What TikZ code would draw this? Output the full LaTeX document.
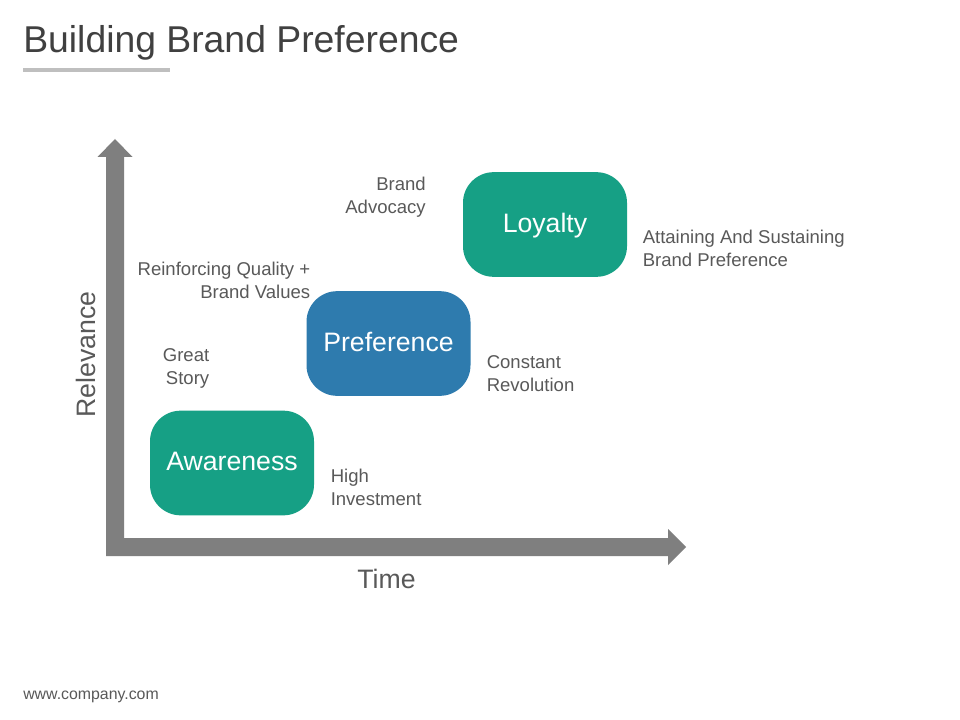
\documentclass[tikz,border=0pt]{standalone}
\usepackage{fontspec}
\setmainfont{Liberation Sans}
\definecolor{axisgray}{HTML}{7F7F7F}
\definecolor{tealbox}{HTML}{16A085}
\definecolor{bluebox}{HTML}{2E7BAE}
\definecolor{textgray}{HTML}{595959}
\definecolor{titlegray}{HTML}{404040}
\definecolor{rulegray}{HTML}{BFBFBF}
\tikzset{
  stagebox/.style={rounded corners=23pt,minimum width=123pt,minimum height=78.5pt,inner sep=0pt,text=white,text height=11.6pt,text depth=0pt,font=\fontsize{20}{24}\selectfont},
  lab/.style={text=textgray,inner sep=0pt,font=\fontsize{13.9}{17.25}\selectfont},
  axlab/.style={text=textgray,inner sep=0pt,font=\fontsize{20}{24}\selectfont},
}
\begin{document}
\begin{tikzpicture}[x=0.75pt,y=-0.75pt]
\useasboundingbox (0,0) rectangle (960,720);
\fill[white] (0,0) rectangle (960,720);
\node[anchor=base west,inner sep=0pt,text=titlegray,font=\fontsize{28}{32}\selectfont] (title) at (23,53) {Building Brand Preference};
\fill[rulegray] (23,68) rectangle (170,72);
\fill[axisgray] (106,556) -- (106,157) -- (97.5,157) -- (115,139) -- (132.5,157) -- (124,157) -- (124,538) -- (668,538) -- (668,529) -- (686,547) -- (668,565) -- (668,556) -- cycle;
\node[stagebox,fill=tealbox] (awareness) at (232,463) {Awareness};
\node[stagebox,fill=bluebox] (preference) at (388.5,343.5) {Preference};
\node[stagebox,fill=tealbox] (loyalty) at (545,224.5) {Loyalty};
\node[axlab,rotate=90,anchor=center] (relevance) at (85.5,354.5) {Relevance};
\node[axlab,anchor=center] (time) at (386.5,578.5) {Time};
\node[lab,anchor=north east,align=right] (advocacy) at (426,177) {Brand\\Advocacy};
\node[lab,anchor=north east,align=right] (reinforcing) at (310.5,262) {Reinforcing Quality +\\Brand Values};
\node[lab,anchor=north east,align=right] (story) at (209.5,348) {Great\\Story};
\node[lab,anchor=north west,align=left] (attaining) at (642.5,230) {Attaining And Sustaining\\Brand Preference};
\node[lab,anchor=north west,align=left] (revolution) at (486.5,355) {Constant\\Revolution};
\node[lab,anchor=north west,align=left] (investment) at (330.5,469) {High\\Investment};
\node[anchor=base west,inner sep=0pt,text=textgray,font=\fontsize{11.9}{14}\selectfont] (site) at (23,699) {www.company.com};
\end{tikzpicture}
\end{document}
